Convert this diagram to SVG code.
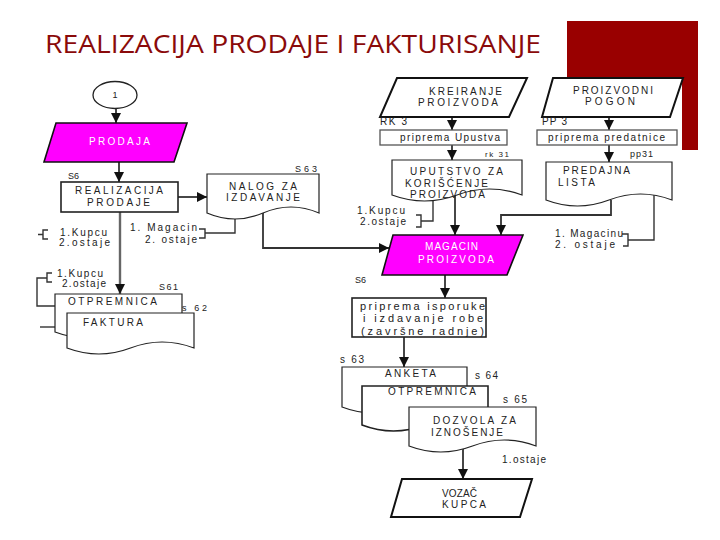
<svg xmlns="http://www.w3.org/2000/svg" width="720" height="540" viewBox="0 0 720 540">
<style>
.t{font-family:"Liberation Sans",Arial,sans-serif;font-size:10px;fill:#222}
.s{font-size:9px}
.b{font-size:11px}
.w{fill:#fff}
.doc{fill:#fff;stroke:#222;stroke-width:1.2}
.box{fill:#fff;stroke:#222;stroke-width:1.6}
.gbox{fill:#fff;stroke:#555;stroke-width:1.3}
.par{fill:#fff;stroke:#111;stroke-width:2}
.mag{fill:#ff00ff;stroke:#111;stroke-width:1.6}
.ln{fill:none;stroke:#333;stroke-width:1.4}
.ar{fill:none;stroke:#333;stroke-width:1.8;marker-end:url(#ah)}
</style>
<defs>
<marker id="ah" markerUnits="userSpaceOnUse" markerWidth="10" markerHeight="10" refX="10" refY="5" orient="auto">
<path d="M0,0 L10,5 L0,10 z" fill="#111"/>
</marker>
</defs>
<rect width="720" height="540" fill="#fff"/>
<rect x="567" y="21" width="131" height="129" fill="#990000"/>
<text x="45" y="53" font-family="'Open Sans','Liberation Sans',sans-serif" font-size="25" fill="#8a0a0a" textLength="496" lengthAdjust="spacingAndGlyphs">REALIZACIJA PRODAJE I FAKTURISANJE</text>
<rect x="40" y="78" width="642" height="455" fill="#fff"/>

<g id="connectors">
<path class="ar" d="M116,108 V123"/>
<path class="ar" d="M119,162 V182"/>
<path class="ar" d="M178,197 H207"/>
<path class="ar" d="M120,212 V294" style="stroke:#666;stroke-width:2.4"/>
<path class="ar" d="M263,213 V248 H389"/>
<path class="ln" d="M235,219 V233 H205 M199,229 H205 V238 H199"/>
<path class="ln" d="M38,234.5 H43 M48,230 H43 V239 H48"/>
<path class="ln" d="M52,273 H47 V282 H52 M47,278 H37 V306 H55"/>
<path class="ln" d="M40,327 H67"/>
<path class="ar" d="M452,117 V130"/>
<path class="ar" d="M452,145 V160"/>
<path class="ar" d="M609,117 V130"/>
<path class="ar" d="M609,145 V162"/>
<path class="ar" d="M455,196 V235"/>
<path class="ln" d="M433,200 V221 H421 M416,215 H421 V227 H416"/>
<path class="ar" d="M611,200 V215 H501 V235"/>
<path class="ln" d="M654,195 V240 H628 M622,234 H628 V246 H623"/>
<path class="ar" d="M445,275 V298"/>
<path class="ar" d="M404,337 V367"/>
<path class="ar" d="M463,449 V479"/>
</g>

<g id="start">
<ellipse cx="115" cy="95" rx="22" ry="13.5" fill="#fff" stroke="#222" stroke-width="1.3"/>
<text class="t s" x="115" y="98" text-anchor="middle">1</text>
</g>
<g id="prodaja">
<polygon class="mag" points="56,123 187,123 174,162 44,162"/>
<text class="t w" x="89" y="145" textLength="61">PRODAJA</text>
</g>
<g id="realizacija">
<text class="t s" x="68" y="179">S6</text>
<rect class="box" x="61" y="182" width="117" height="30"/>
<text class="t" x="75" y="194" textLength="88">REALIZACIJA</text>
<text class="t" x="87" y="206" textLength="63">PRODAJE</text>
</g>
<g id="nalog">
<path class="doc" d="M207,174 H319 V213 Q291,201 263,213 T207,213 Z"/>
<text class="t s" x="295" y="172" textLength="22">S63</text>
<text class="t" x="229" y="190" textLength="68">NALOG ZA</text>
<text class="t" x="226" y="201" textLength="74">IZDAVANJE</text>
<text class="t" x="130" y="231" textLength="67">1. Magacin</text>
<text class="t" x="145" y="243" textLength="52">2. ostaje</text>
</g>
<g id="kupcu-left">
<text class="t" x="60" y="236" textLength="47">1.Kupcu</text>
<text class="t" x="59" y="246" textLength="51">2.ostaje</text>
<text class="t" x="57" y="277" textLength="46">1.Kupcu</text>
<text class="t" x="62" y="287" textLength="44">2.ostaje</text>
</g>
<g id="otpremnica-left">
<text class="t s" x="159" y="290" textLength="19">S61</text>
<path class="doc" d="M55,294 H182 V332 Q150,320 118.5,332 T55,332 Z"/>
<text class="t" x="68" y="305" textLength="89">OTPREMNICA</text>
</g>
<g id="faktura">
<path class="doc" d="M67,313 H194 V348 Q162,336 130.5,348 T67,348 Z"/>
<text class="t s" x="182" y="311" textLength="25">s 62</text>
<text class="t" x="83" y="326" textLength="60">FAKTURA</text>
</g>
<g id="kreiranje">
<polygon class="par" points="397,78 527,78 509,117 380,117"/>
<text class="t" x="429" y="95" textLength="73">KREIRANJE</text>
<text class="t" x="418" y="106" textLength="80">PROIZVODA</text>
</g>
<g id="priprema-upustva">
<text class="t" x="380" y="125" textLength="27">RK 3</text>
<rect class="gbox" x="380" y="130" width="127" height="15"/>
<text class="t" x="400" y="141" textLength="100">priprema Upustva</text>
</g>
<g id="uputstvo">
<path class="doc" d="M392,160 H522 V195 Q489.5,183 457,195 T392,195 Z"/>
<text class="t s" x="485" y="157" textLength="24" style="font-size:8px">rk 31</text>
<text class="t" x="410" y="175" textLength="93">UPUTSTVO ZA</text>
<text class="t" x="405" y="187" textLength="83">KORIŠĆENJE</text>
<text class="t" x="410" y="198" textLength="75">PROIZVODA</text>
<text class="t" x="357" y="214" textLength="48">1.Kupcu</text>
<text class="t" x="360" y="225" textLength="46">2.ostaje</text>
</g>
<g id="proizvodni">
<polygon class="par" points="553,78 683,78 670,117 542,117"/>
<text class="t" x="573" y="94" textLength="80">PROIZVODNI</text>
<text class="t" x="585" y="105" textLength="50">POGON</text>
</g>
<g id="priprema-predatnice">
<text class="t" x="542" y="125" textLength="25">PP 3</text>
<rect class="gbox" x="537" y="130" width="140" height="15"/>
<text class="t" x="548" y="141" textLength="117">priprema predatnice</text>
</g>
<g id="predajna">
<path class="doc" d="M546,162 H672 V200 Q640.5,188 609,200 T546,200 Z"/>
<text class="t s" x="630" y="157" textLength="23">pp31</text>
<text class="t" x="563" y="174" textLength="67">PREDAJNA</text>
<text class="t" x="558" y="186" textLength="37">LISTA</text>
<text class="t" x="555" y="237" textLength="68">1. Magacinu</text>
<text class="t" x="555" y="248" textLength="60">2. ostaje</text>
</g>
<g id="magacin">
<polygon class="mag" points="393,235 523,235 507,275 382,275"/>
<text class="t w" x="425" y="250" textLength="53">MAGACIN</text>
<text class="t w" x="418" y="263" textLength="76">PROIZVODA</text>
<text class="t s" x="355" y="283">S6</text>
</g>
<g id="priprema-isporuke">
<rect class="box" x="352" y="298" width="134" height="39"/>
<text class="t b" x="360" y="309.5" textLength="125">priprema isporuke</text>
<text class="t b" x="363" y="322" textLength="120">i izdavanje robe</text>
<text class="t b" x="361" y="334.5" textLength="123">(završne radnje)</text>
</g>
<g id="anketa">
<text class="t" x="340" y="363" textLength="24">s 63</text>
<path class="doc" d="M342,367 H467 V407 Q435.75,395 404.5,407 T342,407 Z"/>
<text class="t" x="385" y="377" textLength="51">ANKETA</text>
<text class="t" x="475" y="379" textLength="23">s 64</text>
</g>
<g id="otpremnica-right">
<path class="doc" d="M362,386 H488 V425 Q456.5,413 425,425 T362,425 Z" style="stroke-width:1.6"/>
<text class="t" x="388" y="395" textLength="88">OTPREMNICA</text>
<text class="t" x="503" y="403" textLength="24">s 65</text>
</g>
<g id="dozvola">
<path class="doc" d="M409,407 H536 V446 Q504.25,434 472.5,446 T409,446 Z"/>
<text class="t" x="433" y="424" textLength="83">DOZVOLA ZA</text>
<text class="t" x="431" y="436" textLength="72">IZNOŠENJE</text>
<text class="t" x="502" y="463" textLength="44">1.ostaje</text>
</g>
<g id="vozac">
<polygon class="par" points="402,479 532,479 520,517 391,517"/>
<text class="t" x="442" y="497" textLength="35">VOZAČ</text>
<text class="t" x="442" y="508" textLength="44">KUPCA</text>
</g>
</svg>
